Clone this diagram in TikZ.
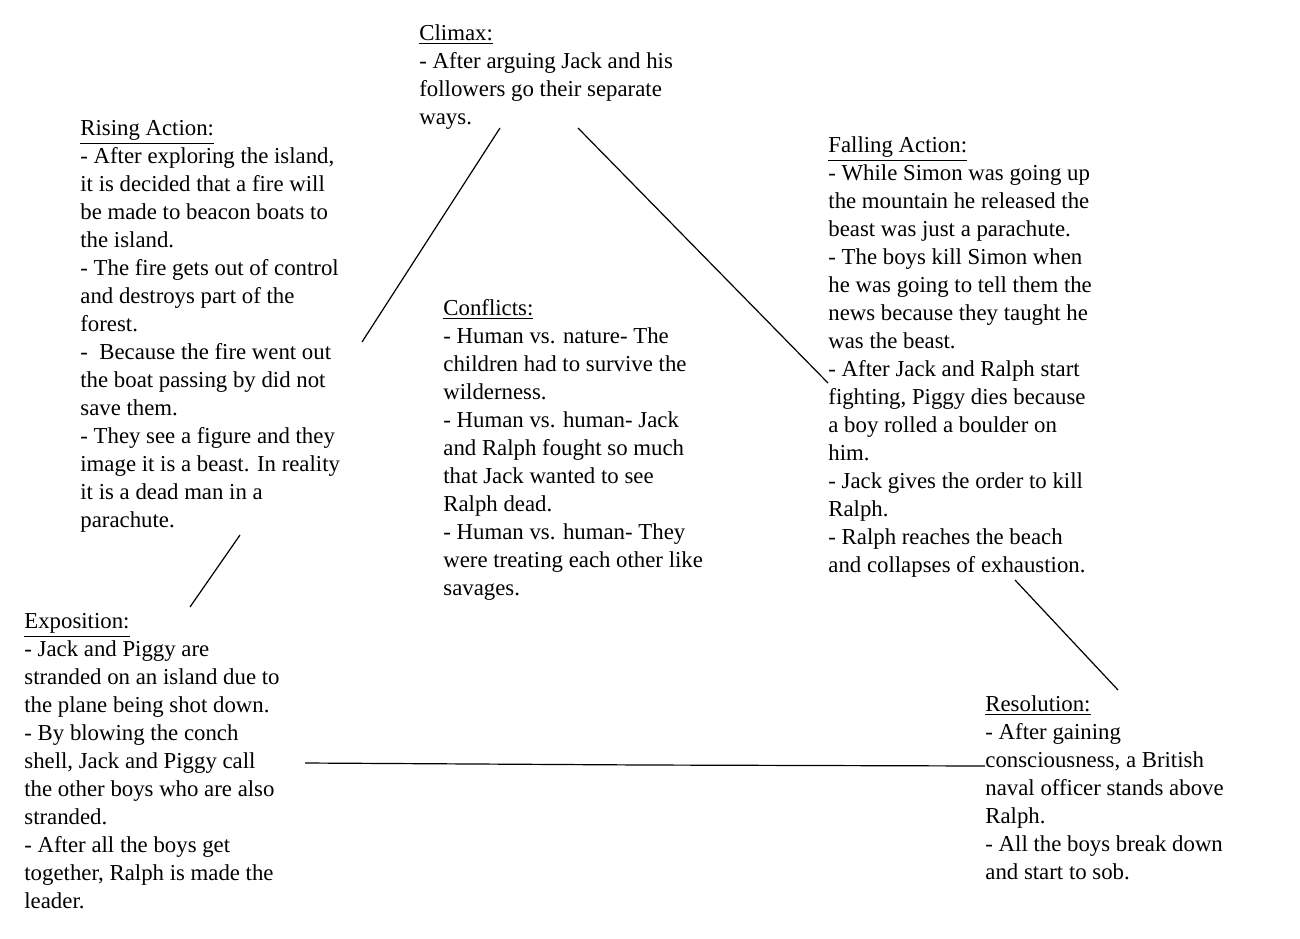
\documentclass[tikz,border=0pt]{standalone}
\usepackage{fontspec}
\setmainfont{Liberation Serif}
\begin{document}
\begin{tikzpicture}[x=0.5pt,y=-0.5pt,
  txt/.style={anchor=north west,inner sep=0pt,align=left,font=\fontsize{11.4}{14}\selectfont},
  ln/.style={draw=black,line width=0.6pt}]
\useasboundingbox (0,0) rectangle (1300,938);
\node[txt] (climax) at (419,24) {\underline{Climax:}\\- After arguing Jack and his\\followers go their separate\\ways.};
\node[txt] (rising) at (80,120) {\underline{Rising Action:}\\- After exploring the island,\\it is decided that a fire will\\be made to beacon boats to\\the island.\\- The fire gets out of control\\and destroys part of the\\forest.\\-\ \ Because the fire went out\\the boat passing by did not\\save them.\\- They see a figure and they\\image it is a beast. In reality\\it is a dead man in a\\parachute.};
\node[txt] (conf) at (443,299) {\underline{Conflicts:}\\- Human vs. nature- The\\children had to survive the\\wilderness.\\- Human vs. human- Jack\\and Ralph fought so much\\that Jack wanted to see\\Ralph dead.\\- Human vs. human- They\\were treating each other like\\savages.};
\node[txt] (fall) at (828,136) {\underline{Falling Action:}\\- While Simon was going up\\the mountain he released the\\beast was just a parachute.\\- The boys kill Simon when\\he was going to tell them the\\news because they taught he\\was the beast.\\- After Jack and Ralph start\\fighting, Piggy dies because\\a boy rolled a boulder on\\him.\\- Jack gives the order to kill\\Ralph.\\- Ralph reaches the beach\\and collapses of exhaustion.};
\node[txt] (expo) at (24,613) {\underline{Exposition:}\\- Jack and Piggy are\\stranded on an island due to\\the plane being shot down.\\- By blowing the conch\\shell, Jack and Piggy call\\the other boys who are also\\stranded.\\- After all the boys get\\together, Ralph is made the\\leader.};
\node[txt] (res) at (985,695) {\underline{Resolution:}\\- After gaining\\consciousness, a British\\naval officer stands above\\Ralph.\\- All the boys break down\\and start to sob.};
\coordinate (e1) at (190,607); \coordinate (r1) at (240,535);
\coordinate (r2) at (362,342); \coordinate (c1) at (500,128);
\coordinate (c2) at (578,128); \coordinate (f1) at (828,383);
\coordinate (f2) at (1015,580); \coordinate (s1) at (1118,690);
\coordinate (h1) at (305,763); \coordinate (h2) at (645,765); \coordinate (h3) at (985,766);
\draw[ln] (e1) -- (r1);
\draw[ln] (r2) -- (c1);
\draw[ln] (c2) -- (f1);
\draw[ln] (f2) -- (s1);
\draw[ln] (h1) -- (h2) -- (h3);
\end{tikzpicture}
\end{document}
